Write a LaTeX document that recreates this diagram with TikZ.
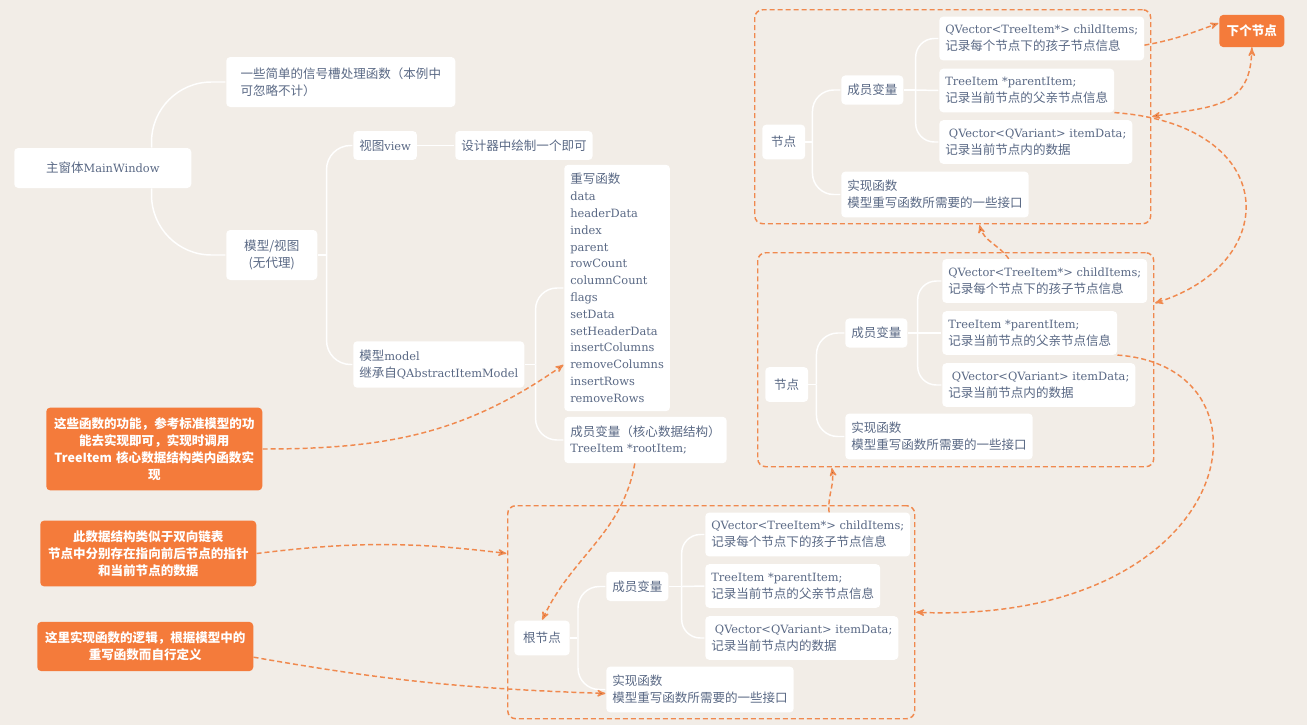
\documentclass[tikz,border=0pt]{standalone}
\usepackage{fontspec}
\setmainfont{DejaVu Serif}[Scale=0.91]
\newfontfamily\zhfont{Noto Sans CJK SC}
\newcommand\zhtext[1]{{\zhfont #1}}
\usepackage{tikz}
\usetikzlibrary{arrows}
\definecolor{paper}{HTML}{F2EDE7}
\definecolor{ink}{HTML}{5A6985}
\definecolor{accent}{HTML}{F47B3B}
\definecolor{dashline}{HTML}{F0894E}

\begin{document}
\begin{tikzpicture}[x=0.75pt,y=0.75pt,>=stealth',shorten >=0.5pt,
    text node/.style={fill=white,rounded corners=3pt,text=ink,align=left,anchor=west,inner xsep=4.5pt,inner ysep=6.5pt,font=\fontsize{9.4}{12.6}\selectfont},
    label node/.style={text node,inner xsep=6.7pt,inner ysep=8.7pt},
    note node/.style={fill=accent,rounded corners=3pt,text=white,align=center,anchor=west,text width=152pt,inner xsep=5pt,inner ysep=7.6pt,font=\zhfont\bfseries\fontsize{9.4}{12.6}\selectfont},
    group box/.style={draw=dashline,line width=1.1pt,dash pattern=on 3.75pt off 2.25pt,rounded corners=6pt,anchor=north west,inner sep=0pt},
    branch/.style={draw=white,line width=1.1pt},
    link/.style={->,draw=dashline,line width=1.1pt,dash pattern=on 3.75pt off 2.25pt}]

  \fill[paper] (0,0) rectangle (1307,-725);
  \useasboundingbox (0,0) rectangle (1307,-725);

  \node[group box,minimum width=297pt,minimum height=160.5pt] (n1box) at (754,-9) {};
  \node[group box,minimum width=297pt,minimum height=160.5pt] (n2box) at (757,-252) {};
  \node[group box,minimum width=305.25pt,minimum height=159.75pt] (rbox) at (507,-505) {};

  \node[text node,align=center,minimum width=132.75pt,minimum height=30pt] (main) at (14,-168) {\zhtext{主窗体}MainWindow};
  \node[text node,minimum width=171.75pt,minimum height=37.5pt] (slots) at (226,-82) {\zhtext{一些简单的信号槽处理函数（本例中}\\\zhtext{可忽略不计）}};
  \node[text node] (view) at (353,-145.5) {\zhtext{视图}view};
  \node[text node] (designer) at (455,-145.5) {\zhtext{设计器中绘制一个即可}};
  \node[text node,align=center,minimum width=68.25pt,minimum height=37.5pt] (mv) at (226,-255) {\zhtext{模型/视图}\\\zhtext{(无代理)}};
  \node[text node] (model) at (353,-364.5) {\zhtext{模型}model\\\zhtext{继承自}QAbstractItemModel};
  \node[text node] (overrides) at (564,-288) {\zhtext{重写函数}\\data\\headerData\\index\\parent\\rowCount\\columnCount\\flags\\setData\\setHeaderData\\insertColumns\\removeColumns\\insertRows\\removeRows};
  \node[text node] (rootmem) at (564,-440) {\zhtext{成员变量（核心数据结构）}\\TreeItem *rootItem;};

  \node[note node] (noteA) at (46,-449) {这些函数的功能，参考标准模型的功\\能去实现即可，实现时调用\\TreeItem 核心数据结构类内函数实\\现};
  \node[note node] (noteB) at (40,-553.5) {此数据结构类似于双向链表\\节点中分别存在指向前后节点的指针\\和当前节点的数据};
  \node[note node] (noteC) at (37,-646.5) {这里实现函数的逻辑，根据模型中的\\重写函数而自行定义};
  \node[note node,text width=,inner xsep=5.6pt] (next) at (1219,-31) {下个节点};

  \node[label node] (n1) at (762,-142) {\zhtext{节点}};
  \node[text node] (n1mem) at (841,-90) {\zhtext{成员变量}};
  \node[text node] (n1child) at (939,-38.5) {QVector<TreeItem*> childItems;\\\zhtext{记录每个节点下的孩子节点信息}};
  \node[text node] (n1parent) at (939,-90.5) {TreeItem *parentItem;\\\zhtext{记录当前节点的父亲节点信息}};
  \node[text node] (n1data) at (939,-142) {\ QVector<QVariant> itemData;\\\zhtext{记录当前节点内的数据}};
  \node[text node] (n1impl) at (841,-194.5) {\zhtext{实现函数}\\\zhtext{模型重写函数所需要的一些接口}};

  \node[label node] (n2) at (765,-384.5) {\zhtext{节点}};
  \node[text node] (n2mem) at (845,-333) {\zhtext{成员变量}};
  \node[text node] (n2child) at (942,-281) {QVector<TreeItem*> childItems;\\\zhtext{记录每个节点下的孩子节点信息}};
  \node[text node] (n2parent) at (942,-333) {TreeItem *parentItem;\\\zhtext{记录当前节点的父亲节点信息}};
  \node[text node] (n2data) at (942,-385) {\ QVector<QVariant> itemData;\\\zhtext{记录当前节点内的数据}};
  \node[text node] (n2impl) at (845,-436.5) {\zhtext{实现函数}\\\zhtext{模型重写函数所需要的一些接口}};

  \node[label node] (r) at (514,-638) {\zhtext{根节点}};
  \node[text node] (rmem) at (606,-586.5) {\zhtext{成员变量}};
  \node[text node] (rchild) at (705,-534.5) {QVector<TreeItem*> childItems;\\\zhtext{记录每个节点下的孩子节点信息}};
  \node[text node] (rparent) at (705,-586) {TreeItem *parentItem;\\\zhtext{记录当前节点的父亲节点信息}};
  \node[text node] (rdata) at (705,-638) {\ QVector<QVariant> itemData;\\\zhtext{记录当前节点内的数据}};
  \node[text node] (rimpl) at (606,-689.5) {\zhtext{实现函数}\\\zhtext{模型重写函数所需要的一些接口}};

  \draw[branch,rounded corners=45pt] ([xshift=-30pt]main.north east) |- (slots.west);
  \draw[branch,rounded corners=45pt] ([xshift=-30pt]main.south east) |- (mv.west);
  \draw[branch] (mv.east) -- ++(9,0) coordinate (mvfork);
  \draw[branch,rounded corners=18pt] (mvfork) |- (view.west);
  \draw[branch,rounded corners=18pt] (mvfork) |- (model.west);
  \draw[branch] (view) -- (designer);
  \draw[branch] (model.east) -- ++(11,0) coordinate (modelfork);
  \draw[branch,rounded corners=16pt] (modelfork) |- (overrides.west);
  \draw[branch,rounded corners=16pt] (modelfork) |- (rootmem.west);

  \draw[branch] (n1.east) -- ++(7,0) coordinate (n1fork);
  \draw[branch,rounded corners=16pt] (n1fork) |- (n1mem.west);
  \draw[branch,rounded corners=16pt] (n1fork) |- (n1impl.west);
  \draw[branch] (n1mem.east) -- ++(12,0) coordinate (n1memfork);
  \draw[branch,rounded corners=14pt] (n1memfork) |- (n1child.west);
  \draw[branch] (n1memfork) -- (n1parent.west);
  \draw[branch,rounded corners=14pt] (n1memfork) |- (n1data.west);

  \draw[branch] (n2.east) -- ++(8,0) coordinate (n2fork);
  \draw[branch,rounded corners=16pt] (n2fork) |- (n2mem.west);
  \draw[branch,rounded corners=16pt] (n2fork) |- (n2impl.west);
  \draw[branch] (n2mem.east) -- ++(10,0) coordinate (n2memfork);
  \draw[branch,rounded corners=14pt] (n2memfork) |- (n2child.west);
  \draw[branch] (n2memfork) -- (n2parent.west);
  \draw[branch,rounded corners=14pt] (n2memfork) |- (n2data.west);

  \draw[branch] (r.east) -- ++(8,0) coordinate (rfork);
  \draw[branch,rounded corners=16pt] (rfork) |- (rmem.west);
  \draw[branch,rounded corners=16pt] (rfork) |- (rimpl.west);
  \draw[branch] (rmem.east) -- ++(13,0) coordinate (rmemfork);
  \draw[branch,rounded corners=14pt] (rmemfork) |- (rchild.west);
  \draw[branch] (rmemfork) -- (rparent.west);
  \draw[branch,rounded corners=14pt] (rmemfork) |- (rdata.west);

  \path[link]
    (noteA.east) edge[out=0,in=215] (overrides.west |- model.east)
    (noteB.east) edge[out=7,in=173] (rbox.west |- noteB.east)
    ([yshift=-8pt]noteC.east) edge[out=-10,in=178] ([yshift=-3pt]rimpl.west)
    ([xshift=-8pt]rootmem.south) edge[out=-100,in=65] (r.north)
    ([xshift=16pt]rchild.north) edge[out=95,in=-80] ([xshift=18pt]rchild.north |- n2box.south)
    ([xshift=-27pt]n2child.north) edge[out=125,in=-75] ([xshift=20pt]n1box.south)
    ([yshift=-5pt]n1child.east) edge[out=10,in=200] ([yshift=6pt]next.west)
    (next.south) edge[out=-90,in=10,looseness=1.3] (n1box.east);
  \draw[link] (n1parent.south east) .. controls +(166,-12) and +(129,40) .. (n2box.east |- n2child.south);
  \draw[link] (n2parent.south east) .. controls +(170,-12) and +(322,-13) .. (rbox.east);

\end{tikzpicture}
\end{document}
